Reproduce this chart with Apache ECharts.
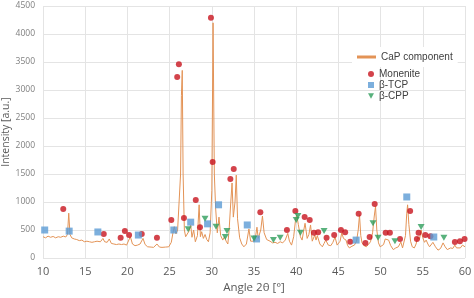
<!DOCTYPE html>
<html>
<head>
<meta charset="utf-8">
<script src="https://cdn.jsdelivr.net/npm/echarts@6/dist/echarts.min.js"></script>
<style>
  html, body { margin: 0; padding: 0; background: #fff; }
  #chart { width: 474px; height: 298px; }
</style>
</head>
<body>
<div id="chart"></div>
<script>
// diffraction pattern: [angle, intensity]
const capAngles = [
  10.0, 10.3, 10.6, 10.9, 11.2, 11.5, 11.8, 12.1, 12.4, 12.7, 12.9, 13.05, 13.2, 13.4, 13.7, 14.0,
  14.3, 14.6, 14.9, 15.2, 15.5, 15.8, 16.1, 16.4, 16.6, 16.8, 17.1, 17.3, 17.6, 17.85, 18.1, 18.4,
  18.7, 19.0, 19.3, 19.6, 19.9, 20.1, 20.35, 20.6, 20.9, 21.2, 21.5, 21.85, 22.1, 22.4, 22.8, 23.1,
  23.5, 23.8, 24.1, 24.5, 24.9, 25.2, 25.4, 25.55, 25.75, 25.95, 26.1, 26.3, 26.4, 26.5, 26.6, 26.75,
  26.9, 27.1, 27.3, 27.5, 27.65, 27.85, 28.05, 28.3, 28.5, 28.65, 28.8, 29.0, 29.2, 29.4, 29.6, 29.8,
  30.0, 30.15, 30.3, 30.45, 30.65, 30.85, 31.05, 31.3, 31.5, 31.7, 31.9, 32.05, 32.25, 32.4, 32.55, 32.75,
  32.9, 33.05, 33.3, 33.55, 33.8, 34.1, 34.4, 34.6, 34.8, 35.1, 35.35, 35.5, 35.8, 36.0, 36.2, 36.5,
  36.9, 37.2, 37.5, 37.8, 38.1, 38.4, 38.7, 39.0, 39.2, 39.45, 39.7, 39.9, 40.05, 40.25, 40.5, 40.7,
  40.9, 41.05, 41.3, 41.5, 41.7, 41.9, 42.05, 42.2, 42.35, 42.5, 42.8, 43.1, 43.3, 43.5, 43.8, 44.1,
  44.35, 44.6, 44.85, 45.0, 45.2, 45.4, 45.6, 45.9, 46.1, 46.3, 46.6, 46.9, 47.15, 47.35, 47.5, 47.65,
  47.8, 48.05, 48.3, 48.55, 48.8, 49.05, 49.25, 49.4, 49.55, 49.75, 49.95, 50.1, 50.35, 50.55, 50.75, 50.95,
  51.2, 51.5, 51.8, 52.1, 52.4, 52.6, 52.75, 52.95, 53.1, 53.2, 53.35, 53.55, 53.75, 54.0, 54.2, 54.4,
  54.6, 54.8, 55.0, 55.2, 55.4, 55.6, 55.8, 56.0, 56.2, 56.5, 56.8, 57.1, 57.4, 57.65, 57.9, 58.1,
  58.3, 58.55, 58.8, 59.0, 59.2, 59.45, 59.7, 60.0
]
const capIntensity = [
  380, 360, 390, 370, 385, 360, 380, 370, 390, 375, 420, 800, 420, 360, 340, 330,
  310, 320, 290, 300, 290, 280, 290, 300, 330, 290, 350, 290, 280, 340, 260, 250,
  240, 250, 240, 250, 230, 260, 380, 250, 220, 230, 250, 350, 240, 200, 195, 190,
  250, 195, 190, 195, 200, 280, 450, 560, 430, 500, 480, 1500, 2900, 3350, 1500, 500,
  380, 400, 480, 590, 370, 500, 290, 400, 950, 380, 470, 350, 420, 330, 290, 450,
  1200, 4200, 1500, 900, 450, 730, 400, 320, 380, 300, 250, 500, 1000, 1340, 730, 1000,
  1480, 700, 360, 250, 200, 250, 520, 300, 270, 300, 550, 350, 500, 750, 450, 330,
  300, 270, 280, 260, 290, 270, 320, 440, 300, 230, 380, 650, 770, 600, 380, 320,
  500, 620, 350, 420, 590, 300, 270, 410, 320, 400, 250, 200, 260, 320, 230, 220,
  280, 375, 230, 195, 300, 450, 350, 320, 220, 180, 210, 230, 300, 500, 770, 400,
  270, 220, 200, 240, 290, 450, 750, 920, 500, 270, 200, 180, 240, 340, 375, 320,
  220, 150, 180, 200, 285, 180, 150, 400, 800, 950, 600, 300, 200, 180, 250, 375,
  330, 500, 360, 280, 320, 250, 200, 230, 280, 200, 140, 170, 270, 200, 150, 160,
  180, 170, 230, 180, 150, 180, 230, 200
]

// phase markers
const monenite = [
  [12.4, 875], [17.2, 430], [19.2, 360], [19.7, 480], [20.2, 410], [21.7, 430], [23.5, 360],
  [25.2, 680], [25.9, 3230], [26.1, 3460], [26.7, 715], [28.1, 1035], [28.6, 550], [29.9, 4290],
  [30.1, 1715], [32.2, 1410], [32.6, 1590], [35.75, 815], [38.9, 500], [39.9, 840], [41.0, 730],
  [41.6, 680], [42.1, 450], [42.6, 460], [43.6, 360], [44.5, 410], [45.3, 500], [45.8, 460],
  [46.4, 290], [47.4, 790], [48.2, 270], [48.7, 375], [49.3, 965], [50.6, 450], [51.1, 450],
  [52.3, 340], [53.5, 840], [54.3, 340], [54.5, 450], [55.3, 410], [55.9, 390], [58.8, 285],
  [59.4, 300], [59.95, 340]
]
const betaTCP = [
  [10.2, 500], [13.1, 480], [16.5, 465], [21.3, 410], [25.5, 500], [27.5, 640], [29.5, 610],
  [30.8, 950], [34.2, 590], [35.3, 340], [47.1, 320], [53.1, 1090], [56.3, 375]
]
const betaCPP = [
  [27.2, 515], [29.2, 700], [30.5, 560], [31.6, 375], [31.8, 480], [35.0, 350], [37.3, 320],
  [38.1, 360], [40.0, 680], [40.2, 750], [40.5, 450], [43.3, 480], [49.1, 620], [49.7, 360],
  [51.7, 300], [54.8, 555], [57.5, 360]
]

const chart = echarts.init(document.getElementById('chart'), null, { renderer: 'canvas' })
const gridColor = '#e4e4e4'
const textColor = '#595959'
const font = '"Open Sans", "Liberation Sans", sans-serif'
const legendFont = '"Liberation Sans", Arial, sans-serif'
const downTriangle = 'path://M0,0 L10,0 L5,9 Z'

chart.setOption({
  animation: false,
  grid: { left: 43, right: 9, top: 6, bottom: 40, containLabel: false, outerBoundsMode: 'none' },
  legend: [{
    data: ['CaP component'],
    left: 352,
    top: 47,
    icon: 'rect',
    itemWidth: 19,
    itemHeight: 3,
    textStyle: { color: '#404040', fontSize: 10, fontFamily: legendFont },
    backgroundColor: '#fff'
  }, {
    data: [
      { name: 'Monenite', icon: 'circle' },
      { name: 'β-TCP', icon: 'rect' },
      { name: 'β-CPP', icon: downTriangle }
    ],
    orient: 'vertical',
    left: 363,
    top: 64,
    itemGap: 1,
    itemWidth: 6,
    itemHeight: 6,
    textStyle: { color: '#404040', fontSize: 10, fontFamily: legendFont }
  }],
  xAxis: {
    type: 'value',
    min: 10,
    max: 60,
    interval: 5,
    name: 'Angle 2θ [°]',
    nameLocation: 'middle',
    nameGap: 23,
    nameTextStyle: { color: textColor, fontSize: 11.5, fontFamily: font },
    axisLine: { show: false },
    axisTick: { show: false },
    axisLabel: { color: textColor, fontSize: 11, margin: 8, fontFamily: font },
    splitLine: { show: true, lineStyle: { color: gridColor } }
  },
  yAxis: {
    type: 'value',
    min: 0,
    max: 4500,
    interval: 500,
    name: 'Intensity [a.u.]',
    nameLocation: 'middle',
    nameGap: 31,
    nameMoveOverlap: false,
    nameTextStyle: { color: textColor, fontSize: 10.5, fontFamily: font },
    axisLine: { show: false },
    axisTick: { show: false },
    axisLabel: { color: '#7f7f7f', fontSize: 8.5, margin: 8, fontFamily: font, formatter: v => String(v) },
    splitLine: { show: true, lineStyle: { color: gridColor } }
  },
  series: [{
    name: 'CaP component',
    type: 'line',
    data: capAngles.map((a, i) => [a, capIntensity[i]]),
    showSymbol: false,
    symbol: 'none',
    lineStyle: { color: '#E39356', width: 1 },
    itemStyle: { color: '#E39356' },
    z: 2
  }, {
    name: 'Monenite',
    type: 'scatter',
    data: monenite,
    symbol: 'circle',
    symbolSize: 6,
    itemStyle: { color: '#C8141E' },
    z: 3
  }, {
    name: 'β-TCP',
    type: 'scatter',
    data: betaTCP,
    symbol: 'rect',
    symbolSize: 7,
    itemStyle: { color: '#5B9BD5' },
    z: 3
  }, {
    name: 'β-CPP',
    type: 'scatter',
    data: betaCPP,
    symbol: downTriangle,
    symbolSize: [7, 6],
    itemStyle: { color: '#2E9E5B' },
    z: 3
  }]
})
</script>
</body>
</html>
